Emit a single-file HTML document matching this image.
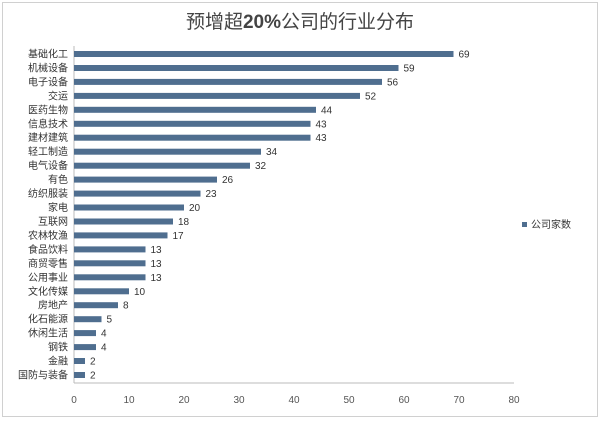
<!DOCTYPE html><html><head><meta charset="utf-8"><style>body{margin:0;background:#fff}</style></head><body>
<svg width="600" height="420" xmlns="http://www.w3.org/2000/svg" font-family="Liberation Sans, Noto Sans CJK SC, sans-serif">
<rect x="2.5" y="2.5" width="595" height="414" fill="#fff" stroke="#d0d0d0"/>
<text x="300" y="28" text-anchor="middle" font-size="19" fill="#444">预增超<tspan font-weight="bold">20%</tspan>公司的行业分布</text>
<line x1="74" y1="46" x2="74" y2="383" stroke="#bbb"/>
<line x1="74" y1="383" x2="514" y2="383" stroke="#bbb"/>
<g font-size="10" fill="#555" text-anchor="middle">
<text x="74" y="403">0</text><text x="129" y="403">10</text><text x="184" y="403">20</text><text x="239" y="403">30</text><text x="294" y="403">40</text><text x="349" y="403">50</text><text x="404" y="403">60</text><text x="459" y="403">70</text><text x="514" y="403">80</text>
</g>
<g fill="#4f6e8f">
<rect x="74" y="51" width="379.5" height="6"/>
<rect x="74" y="65" width="324.5" height="6"/>
<rect x="74" y="78.9" width="308" height="6"/>
<rect x="74" y="92.9" width="286" height="6"/>
<rect x="74" y="106.8" width="242" height="6"/>
<rect x="74" y="120.8" width="236.5" height="6"/>
<rect x="74" y="134.7" width="236.5" height="6"/>
<rect x="74" y="148.7" width="187" height="6"/>
<rect x="74" y="162.7" width="176" height="6"/>
<rect x="74" y="176.6" width="143" height="6"/>
<rect x="74" y="190.6" width="126.5" height="6"/>
<rect x="74" y="204.5" width="110" height="6"/>
<rect x="74" y="218.5" width="99" height="6"/>
<rect x="74" y="232.4" width="93.5" height="6"/>
<rect x="74" y="246.4" width="71.5" height="6"/>
<rect x="74" y="260.3" width="71.5" height="6"/>
<rect x="74" y="274.3" width="71.5" height="6"/>
<rect x="74" y="288.3" width="55" height="6"/>
<rect x="74" y="302.2" width="44" height="6"/>
<rect x="74" y="316.2" width="27.5" height="6"/>
<rect x="74" y="330.1" width="22" height="6"/>
<rect x="74" y="344.1" width="22" height="6"/>
<rect x="74" y="358" width="11" height="6"/>
<rect x="74" y="372" width="11" height="6"/>
</g>
<g font-size="10" fill="#333" text-anchor="end">
<text x="68" y="57.5">基础化工</text>
<text x="68" y="71.5">机械设备</text>
<text x="68" y="85.4">电子设备</text>
<text x="68" y="99.4">交运</text>
<text x="68" y="113.3">医药生物</text>
<text x="68" y="127.3">信息技术</text>
<text x="68" y="141.2">建材建筑</text>
<text x="68" y="155.2">轻工制造</text>
<text x="68" y="169.2">电气设备</text>
<text x="68" y="183.1">有色</text>
<text x="68" y="197.1">纺织服装</text>
<text x="68" y="211">家电</text>
<text x="68" y="225">互联网</text>
<text x="68" y="238.9">农林牧渔</text>
<text x="68" y="252.9">食品饮料</text>
<text x="68" y="266.8">商贸零售</text>
<text x="68" y="280.8">公用事业</text>
<text x="68" y="294.8">文化传媒</text>
<text x="68" y="308.7">房地产</text>
<text x="68" y="322.7">化石能源</text>
<text x="68" y="336.6">休闲生活</text>
<text x="68" y="350.6">钢铁</text>
<text x="68" y="364.5">金融</text>
<text x="68" y="378.5">国防与装备</text>
</g>
<g font-size="10" fill="#333">
<text x="458.5" y="57.5">69</text>
<text x="403.5" y="71.5">59</text>
<text x="387" y="85.4">56</text>
<text x="365" y="99.4">52</text>
<text x="321" y="113.3">44</text>
<text x="315.5" y="127.3">43</text>
<text x="315.5" y="141.2">43</text>
<text x="266" y="155.2">34</text>
<text x="255" y="169.2">32</text>
<text x="222" y="183.1">26</text>
<text x="205.5" y="197.1">23</text>
<text x="189" y="211">20</text>
<text x="178" y="225">18</text>
<text x="172.5" y="238.9">17</text>
<text x="150.5" y="252.9">13</text>
<text x="150.5" y="266.8">13</text>
<text x="150.5" y="280.8">13</text>
<text x="134" y="294.8">10</text>
<text x="123" y="308.7">8</text>
<text x="106.5" y="322.7">5</text>
<text x="101" y="336.6">4</text>
<text x="101" y="350.6">4</text>
<text x="90" y="364.5">2</text>
<text x="90" y="378.5">2</text>
</g>
<rect x="522" y="222" width="5" height="5" fill="#4f6e8f"/>
<text x="531" y="228" font-size="10" fill="#333">公司家数</text>
</svg></body></html>
